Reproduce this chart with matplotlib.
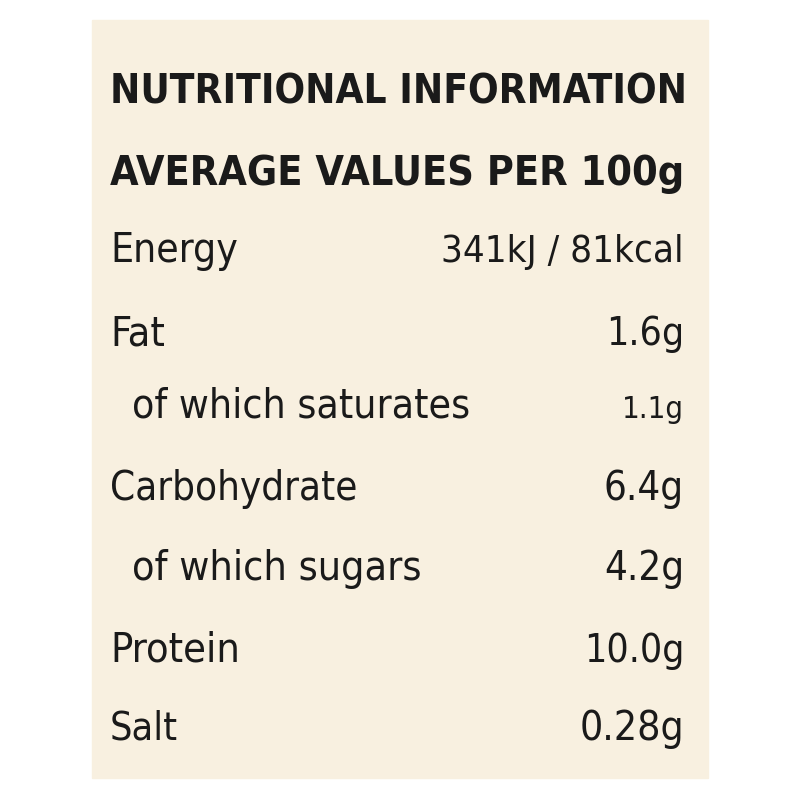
import matplotlib
matplotlib.use("Agg")
import matplotlib.pyplot as plt
from matplotlib.patches import Rectangle
from matplotlib import font_manager

titles = ["NUTRITIONAL INFORMATION", "AVERAGE VALUES PER 100g"]
nutrients = ["Energy", "Fat", "of which saturates", "Carbohydrate",
             "of which sugars", "Protein", "Salt"]
amounts = ["341kJ / 81kcal", "1.6g", "1.1g", "6.4g", "4.2g", "10.0g", "0.28g"]
indented = [False, False, True, False, True, False, False]


def pick_font():
    # prefer a condensed face if one is installed
    fp = font_manager.FontProperties(family="DejaVu Sans", stretch="condensed")
    path = font_manager.findfont(fp)
    if "Condensed" in path:
        return {"family": "DejaVu Sans", "fontstretch": "condensed"}
    for name in ["Liberation Sans Narrow", "Roboto Condensed", "Open Sans Condensed"]:
        try:
            font_manager.findfont(name, fallback_to_default=False)
            return {"family": name}
        except ValueError:
            pass
    return {"family": "DejaVu Sans"}


FONT = pick_font()
INK = "#1a1a1a"

fig = plt.figure(figsize=(8, 8), dpi=100)
ax = fig.add_axes([0, 0, 1, 1])
ax.set_xlim(0, 800)
ax.set_ylim(800, 0)
ax.axis("off")
ax.add_patch(Rectangle((92, 20), 616, 758, color="#f8f0e0", zorder=0))
renderer = fig.canvas.get_renderer()


def put(x, y, s, size, width, ha="left", **kw):
    # shrink the text until it is no wider than in the reference
    t = ax.text(x, y, s, fontsize=size, color=INK, va="baseline", ha=ha, **FONT, **kw)
    w = t.get_window_extent(renderer).width
    if w > width:
        t.set_fontsize(size * width / w)
    return t


title_y = [103, 185]
title_w = [576, 574]
for t, y, w in zip(titles, title_y, title_w):
    put(110, y, t, 40, w, fontweight="bold")

row_y = [262, 345, 418, 500, 580, 662, 740]
name_w = [128, 55, 338, 248, 290, 130, 68]
val_w = [243, 78, 62, 80, 80, 100, 105]
for name, val, ind, y, nw, vw in zip(nutrients, amounts, indented, row_y, name_w, val_w):
    put(132 if ind else 110, y, name, 45, nw)
    put(684, y, val, 45, vw, ha="right")

fig.savefig("out.png", dpi=100)
